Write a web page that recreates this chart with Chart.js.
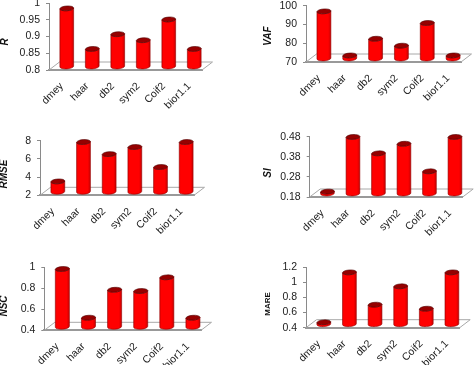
<!DOCTYPE html>
<html>
<head>
<meta charset="utf-8">
<style>
  html, body { margin: 0; padding: 0; background: #fff; }
  #wrap { position: relative; width: 474px; height: 365px; overflow: hidden; }
  canvas { position: absolute; }
</style>
<script src="https://cdn.jsdelivr.net/npm/chart.js@4/dist/chart.umd.min.js"></script>
</head>
<body>
<div id="wrap"></div>
<script>
const categories = ["dmey", "haar", "db2", "sym2", "Coif2", "bior1.1"];

const rValues = [0.975, 0.854, 0.898, 0.88, 0.942, 0.854];
const vafValues = [95.4, 71.9, 80.8, 77.1, 89.2, 71.9];
const rmseValues = [3.2, 7.53, 6.2, 6.98, 4.78, 7.53];
const siValues = [0.192, 0.464, 0.3825, 0.43, 0.293, 0.464];
const nscValues = [0.953, 0.491, 0.756, 0.744, 0.874, 0.491];
const mareValues = [0.432, 1.09, 0.664, 0.906, 0.611, 1.09];

const rTicks = [0.8, 0.85, 0.9, 0.95, 1];
const vafTicks = [70, 80, 90, 100];
const rmseTicks = [2, 4, 6, 8];
const siTicks = [0.18, 0.28, 0.38, 0.48];
const nscTicks = [0.4, 0.6, 0.8, 1];
const mareTicks = [0.4, 0.6, 0.8, 1, 1.2];

// box = canvas on the page, left/top/right/bottom = plot area in page pixels
const panels = [
    { name: "R", values: rValues, ticks: rTicks, box: [0, 0, 237, 122], left: 49, top: 3, right: 202, bottom: 70, titleX: 5, titleY: 42, titleFont: "italic bold 10px 'Liberation Sans'" },
    { name: "VAF", values: vafValues, ticks: vafTicks, box: [237, 0, 237, 122], left: 306, top: 5.7, right: 461, bottom: 62, titleX: 268, titleY: 36, titleFont: "italic bold 10px 'Liberation Sans'" },
    { name: "RMSE", values: rmseValues, ticks: rmseTicks, box: [0, 122, 237, 121], left: 40, top: 140.7, right: 194, bottom: 195.3, titleX: 4.5, titleY: 174, titleFont: "italic bold 10px 'Liberation Sans'" },
    { name: "SI", values: siValues, ticks: siTicks, box: [237, 122, 237, 121], left: 309.7, top: 136.7, right: 462.7, bottom: 197, titleX: 268, titleY: 173, titleFont: "italic bold 10px 'Liberation Sans'" },
    { name: "NSC", values: nscValues, ticks: nscTicks, box: [0, 243, 237, 122], left: 44.3, top: 267, right: 201, bottom: 330.3, titleX: 4, titleY: 306, titleFont: "italic bold 10px 'Liberation Sans'" },
    { name: "MARE", values: mareValues, ticks: mareTicks, box: [237, 243, 237, 122], left: 306, top: 267, right: 459.7, bottom: 327.7, titleX: 268, titleY: 304, titleFont: "bold 8px 'Liberation Sans'" }
];

const fontFamily = "'Liberation Sans'";
const axisGray = "#8a8a8a";

// ------------------------
// 3D FLOOR AND CYLINDERS
// ------------------------

const depthX = 10.5;
const depthY = 8;
const shiftX = 5;
const shiftY = 3;
const capY = 2.4;

function drawCylinder(ctx, el, color) {
    const cx = el.x + shiftX;
    const halfW = el.width / 2;
    const topY = el.y - shiftY;
    const baseY = el.base - shiftY;
    const tilt = -0.07;

    const grad = ctx.createLinearGradient(cx - halfW, 0, cx + halfW, 0);
    grad.addColorStop(0, "#ee0000");
    grad.addColorStop(0.12, color);
    grad.addColorStop(0.8, color);
    grad.addColorStop(1, "#cc0000");

    ctx.beginPath();
    ctx.ellipse(cx, topY, halfW, capY, tilt, Math.PI, 0, true);
    ctx.ellipse(cx, baseY, halfW, capY, tilt, 0, Math.PI, false);
    ctx.closePath();
    ctx.fillStyle = grad;
    ctx.fill();
    ctx.strokeStyle = "#900000";
    ctx.lineWidth = 0.6;
    ctx.stroke();

    ctx.beginPath();
    ctx.ellipse(cx, topY, halfW, capY, tilt, 0, Math.PI * 2);
    ctx.fillStyle = "#960000";
    ctx.fill();
    ctx.strokeStyle = "#500000";
    ctx.stroke();
}

const cylinderPlugin = {
    id: "cylinders",
    beforeDatasetsDraw(chart) {
        const { ctx, chartArea } = chart;
        const { left, right, bottom } = chartArea;

        ctx.save();
        ctx.beginPath();
        ctx.moveTo(left, bottom);
        ctx.lineTo(left + depthX, bottom - depthY);
        ctx.lineTo(right + depthX, bottom - depthY);
        ctx.lineTo(right, bottom);
        ctx.strokeStyle = "#a8a8a8";
        ctx.lineWidth = 1;
        ctx.stroke();

        const meta = chart.getDatasetMeta(0);
        meta.data.forEach(el => drawCylinder(ctx, el, chart.data.datasets[0].backgroundColor));
        ctx.restore();
        return false;
    },
    afterDraw(chart, args, opts) {
        const { ctx } = chart;
        ctx.save();
        ctx.translate(opts.x, opts.y);
        ctx.rotate(-Math.PI / 2);
        ctx.font = opts.font;
        ctx.fillStyle = "#111";
        ctx.textAlign = "center";
        ctx.textBaseline = "middle";
        ctx.fillText(opts.text, 0, 0);
        ctx.restore();
    }
};

// ------------------------
// PANELS
// ------------------------

function renderPanel(panel) {
    const [bx, by, bw, bh] = panel.box;

    const canvas = document.createElement("canvas");
    canvas.width = bw;
    canvas.height = bh;
    canvas.style.left = bx + "px";
    canvas.style.top = by + "px";
    canvas.style.width = bw + "px";
    canvas.style.height = bh + "px";
    document.getElementById("wrap").appendChild(canvas);

    new Chart(canvas.getContext("2d"), {
        type: "bar",
        data: {
            labels: categories,
            datasets: [{
                label: panel.name,
                data: panel.values,
                base: panel.ticks[0],
                backgroundColor: "#ff0000",
                categoryPercentage: 1,
                barPercentage: 0.54
            }]
        },
        options: {
            responsive: false,
            animation: false,
            layout: {
                padding: {
                    top: panel.top - by,
                    right: bx + bw - panel.right,
                    left: 0,
                    bottom: 0
                }
            },
            plugins: {
                legend: { display: false },
                tooltip: { enabled: false },
                cylinders: { text: panel.name, x: panel.titleX - bx, y: panel.titleY - by, font: panel.titleFont }
            },
            scales: {
                x: {
                    afterFit: s => {
                        s.height = by + bh - panel.bottom;
                        s.paddingLeft = 0;
                        s.paddingRight = 0;
                    },
                    grid: { display: false },
                    border: { color: "#999999", width: 2 },
                    ticks: {
                        autoSkip: false,
                        minRotation: 45,
                        maxRotation: 45,
                        padding: 2,
                        color: "#222",
                        font: { family: fontFamily, size: 10.5 }
                    }
                },
                y: {
                    min: panel.ticks[0],
                    max: panel.ticks[panel.ticks.length - 1],
                    afterFit: s => {
                        s.width = panel.left - bx;
                        s.paddingTop = 0;
                        s.paddingBottom = 0;
                    },
                    afterBuildTicks: s => { s.ticks = panel.ticks.map(v => ({ value: v })); },
                    grid: { drawOnChartArea: false, tickLength: 3, color: axisGray },
                    border: { color: axisGray, width: 1 },
                    ticks: {
                        autoSkip: false,
                        padding: 6,
                        color: "#222",
                        font: { family: fontFamily, size: 10.5 },
                        callback: v => String(v)
                    }
                }
            }
        },
        plugins: [cylinderPlugin]
    });
}

panels.forEach(renderPanel);
</script>
</body>
</html>
